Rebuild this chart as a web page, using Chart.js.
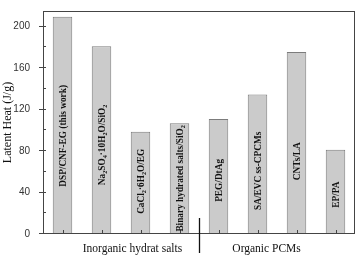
<!DOCTYPE html>
<html><head><meta charset="utf-8">
<script src="https://cdn.jsdelivr.net/npm/chart.js@4.4.1/dist/chart.umd.min.js"></script>
<style>html,body{margin:0;padding:0;background:#fff}#wrap{width:357px;height:256px;position:relative}</style>
</head><body><div id="wrap"><canvas id="c" width="357" height="256"></canvas></div>
<script>
// ---- data ----
const categories = ["DSP/CNF-EG (this work)", "Na_2SO_4·10H_2O/SiO_2", "CaCl_2·6H_2O/EG", "Binary hydrated salts/SiO_2", "PEG/DtAg", "SA/EVC ss-CPCMs", "CNTs/LA", "EP/PA"];
const latentHeat = [209.5, 181, 98.5, 106.8, 110.8, 134.5, 175.4, 81.2];
const groupNames = ["Inorganic hydrat salts", "Organic PCMs"];
const groupSizes = [4, 4];
const yTickValues = [0, 40, 80, 120, 160, 200];
const yMinorStep = 20;
const yTitle = "Latent Heat (J/g)";

const AXIS = '#444';
const SERIF = '"Liberation Serif", "Times New Roman", serif';

function parseRich(s) {
  const parts = [];
  for (let i = 0; i < s.length; i++) {
    if (s[i] === '_' && i + 1 < s.length) { parts.push({t: s[i+1], sub: true}); i++; }
    else {
      const last = parts[parts.length-1];
      if (last && !last.sub) last.t += s[i]; else parts.push({t: s[i], sub: false});
    }
  }
  return parts;
}

const decor = {
  id: 'decor',
  afterDraw(chart, args, opts) {
    const ctx = chart.ctx, a = chart.chartArea, xs = chart.scales.x, ys = chart.scales.y;
    ctx.save();
    ctx.strokeStyle = AXIS; ctx.lineWidth = 1;
    ctx.strokeRect(a.left + 0.5, a.top + 0.5, a.right - a.left - 1, a.bottom - a.top - 1);
    ctx.beginPath();
    for (let v = 0; v <= ys.max; v += yMinorStep) {
      const py = Math.round(ys.getPixelForValue(v)) - 0.5;
      ctx.moveTo(a.left, py); ctx.lineTo(a.left + 3, py);
      if (yTickValues.includes(v)) { ctx.moveTo(a.left - 4, py); ctx.lineTo(a.left, py); }
    }
    categories.forEach((c, i) => {
      const px = Math.round(xs.getPixelForValue(i)) + 0.5;
      ctx.moveTo(px, a.bottom - 1); ctx.lineTo(px, a.bottom - 4);
    });
    ctx.stroke();
    const split = groupSizes[0];
    const dx = Math.round((xs.getPixelForValue(split - 1) + xs.getPixelForValue(split)) / 2) + 0.5;
    ctx.strokeStyle = '#111'; ctx.lineWidth = 1.3;
    ctx.beginPath(); ctx.moveTo(dx, a.bottom - 16); ctx.lineTo(dx, a.bottom + 19); ctx.stroke();
    ctx.fillStyle = '#111';
    ctx.font = '11.5px ' + SERIF;
    ctx.textAlign = 'center'; ctx.textBaseline = 'alphabetic';
    const off = (a.right - a.left) * 0.215;
    ctx.fillText(groupNames[0], dx - off, a.bottom + 18);
    ctx.fillText(groupNames[1], dx + off, a.bottom + 18);
    const mainF = 'bold 9.3px ' + SERIF, subF = 'bold 6.2px ' + SERIF;
    categories.forEach((c, i) => {
      const parts = parseRich(c);
      let w = 0;
      parts.forEach(p => { ctx.font = p.sub ? subF : mainF; p.w = ctx.measureText(p.t).width; w += p.w; });
      const cx = xs.getPixelForValue(i);
      const cy = ys.getPixelForValue(opts.labelCenters[i]);
      ctx.save();
      ctx.translate(cx + 3.3, cy);
      ctx.rotate(-Math.PI / 2);
      ctx.textAlign = 'left'; ctx.textBaseline = 'alphabetic';
      let x = -w / 2;
      parts.forEach(p => {
        ctx.font = p.sub ? subF : mainF;
        ctx.fillText(p.t, x, p.sub ? 2.5 : 0);
        x += p.w;
      });
      ctx.restore();
    });
    ctx.restore();
  }
};

new Chart(document.getElementById('c'), {
  type: 'bar',
  data: {
    labels: categories,
    datasets: [{
      data: latentHeat,
      backgroundColor: '#cbcbcb',
      borderColor: '#7c7c7c',
      borderWidth: 1,
      borderSkipped: 'bottom',
      barPercentage: 0.5,
      categoryPercentage: 1.0
    }]
  },
  options: {
    responsive: false,
    animation: false,
    devicePixelRatio: 1,
    layout: { padding: { top: 1, right: 2, left: 0, bottom: 0 } },
    plugins: {
      legend: { display: false },
      tooltip: { enabled: false },
      decor: { labelCenters: [94.6, 85.9, 50.8, 53.6, 51.7, 60.9, 70.2, 37.9] }
    },
    scales: {
      x: {
        type: 'category',
        offset: true,
        grid: { display: false },
        border: { display: false },
        ticks: { display: false },
        afterFit(s) { s.height = 22; }
      },
      y: {
        min: 0, max: 215,
        grid: { display: false },
        border: { display: false },
        ticks: {
          stepSize: 40,
          padding: 5,
          color: '#333',
          font: { family: '"Liberation Sans", Arial, sans-serif', size: 10 }
        },
        afterBuildTicks(s) { s.ticks = yTickValues.map(v => ({ value: v })); },
        title: {
          display: true,
          text: yTitle,
          color: '#111',
          font: { family: SERIF, size: 12 },
          padding: { top: 1, bottom: 0 }
        },
        afterFit(s) { s.width = 43; }
      }
    }
  },
  plugins: [decor]
});
</script>
</body></html>
